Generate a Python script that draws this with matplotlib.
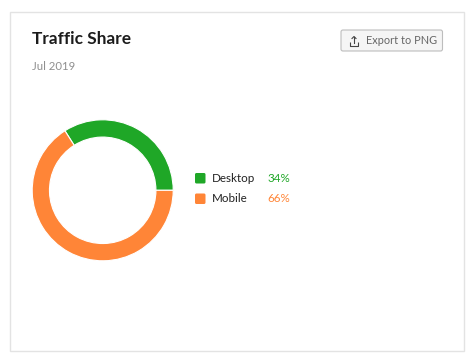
import matplotlib
matplotlib.use("Agg")
import matplotlib.pyplot as plt
from matplotlib.patches import Rectangle, FancyBboxPatch

plt.rcParams["font.family"] = ["Lato", "DejaVu Sans"]

categories = ["Desktop", "Mobile"]
shares = [34, 66]
colors = ["#1fa727", "#ff8537"]

W, H = 474, 362
fig = plt.figure(figsize=(W / 100, H / 100), dpi=100, facecolor="white")

# page-level axes in pixel coords, y going down
bg = fig.add_axes([0, 0, 1, 1])
bg.set_xlim(0, W)
bg.set_ylim(H, 0)
bg.axis("off")

# card
bg.add_patch(Rectangle((10.5, 11.5), 453.5, 339.5, fc="white", ec="#e3e3e3", lw=1))

bg.text(32, 39.5, "Traffic Share", fontsize=12.4, fontweight="bold", color="#1c1c1c", va="center", ha="left")
bg.text(32, 66, "Jul 2019", fontsize=8.2, color="#8f8f8f", va="center", ha="left")

# export button
bg.add_patch(FancyBboxPatch((341, 30), 101.5, 21, boxstyle="round,pad=0,rounding_size=2",
                            fc="#f5f5f5", ec="#bdbdbd", lw=0.8))
bg.text(366, 40.5, "Export to PNG", fontsize=7.9, color="#666666", va="center", ha="left")
bg.plot([350, 350, 358, 358], [41.5, 45.5, 45.5, 41.5], color="#444444", lw=0.8, solid_capstyle="butt")
bg.plot([354, 354], [36.5, 43], color="#444444", lw=0.8)
bg.plot([352, 354, 356], [38.5, 36.5, 38.5], color="#444444", lw=0.8)

# donut
cx, cy, r = 102.7, 190.3, 70.5
ax = fig.add_axes([(cx - r) / W, 1 - (cy + r) / H, 2 * r / W, 2 * r / H])
ax.pie(shares, colors=colors, startangle=0, counterclock=True, radius=1,
       wedgeprops=dict(width=0.245, edgecolor="white", linewidth=0.8))
ax.set_xlim(-1, 1)
ax.set_ylim(-1, 1)

# legend
rows = [178.5, 199]
for name, share, color, y in zip(categories, shares, colors, rows):
    bg.add_patch(FancyBboxPatch((195, y - 5.5), 10.5, 10.5, boxstyle="round,pad=0,rounding_size=1.5",
                                fc=color, ec="none"))
    bg.text(212, y, name, fontsize=8.4, color="#222222", va="center", ha="left")
    bg.text(267.5, y, f"{share}%", fontsize=8.4, color=color, va="center", ha="left")

fig.savefig("out.png", dpi=100)
